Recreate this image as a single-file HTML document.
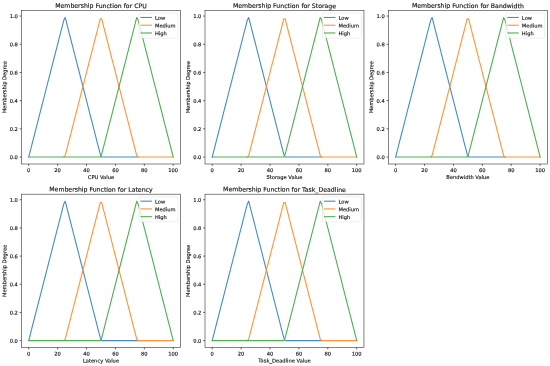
<!DOCTYPE html><html><head><meta charset="utf-8"><title>Membership Functions</title><style>html,body{margin:0;padding:0;background:#fff}svg{display:block}text{font-family:"DejaVu Sans","Liberation Sans",sans-serif;fill:#111;text-rendering:geometricPrecision}</style></head><body>
<svg width="550" height="366" viewBox="0 0 550 366">
<rect width="550" height="366" fill="#fff"/>
<g>
<path d="M28.73 164.00v1.80M57.62 164.00v1.80M86.53 164.00v1.80M115.43 164.00v1.80M144.33 164.00v1.80M173.22 164.00v1.80M21.50 157.02h-1.80M21.50 128.83h-1.80M21.50 100.63h-1.80M21.50 72.44h-1.80M21.50 44.25h-1.80M21.50 16.05h-1.80" stroke="#333" stroke-width="0.800" fill="none"/>
<text transform="translate(28.73 171.98) rotate(0.3) scale(0.1000)" font-size="51.54" text-anchor="middle" stroke="#111" stroke-width="1.50">0</text>
<text transform="translate(57.62 171.98) rotate(0.3) scale(0.1000)" font-size="51.54" text-anchor="middle" stroke="#111" stroke-width="1.50">20</text>
<text transform="translate(86.53 171.98) rotate(0.3) scale(0.1000)" font-size="51.54" text-anchor="middle" stroke="#111" stroke-width="1.50">40</text>
<text transform="translate(115.43 171.98) rotate(0.3) scale(0.1000)" font-size="51.54" text-anchor="middle" stroke="#111" stroke-width="1.50">60</text>
<text transform="translate(144.33 171.98) rotate(0.3) scale(0.1000)" font-size="51.54" text-anchor="middle" stroke="#111" stroke-width="1.50">80</text>
<text transform="translate(173.22 171.98) rotate(0.3) scale(0.1000)" font-size="51.54" text-anchor="middle" stroke="#111" stroke-width="1.50">100</text>
<text transform="translate(17.89 159.10) rotate(0.3) scale(0.1000)" font-size="51.54" text-anchor="end" stroke="#111" stroke-width="1.50">0.0</text>
<text transform="translate(17.89 130.91) rotate(0.3) scale(0.1000)" font-size="51.54" text-anchor="end" stroke="#111" stroke-width="1.50">0.2</text>
<text transform="translate(17.89 102.72) rotate(0.3) scale(0.1000)" font-size="51.54" text-anchor="end" stroke="#111" stroke-width="1.50">0.4</text>
<text transform="translate(17.89 74.52) rotate(0.3) scale(0.1000)" font-size="51.54" text-anchor="end" stroke="#111" stroke-width="1.50">0.6</text>
<text transform="translate(17.89 46.33) rotate(0.3) scale(0.1000)" font-size="51.54" text-anchor="end" stroke="#111" stroke-width="1.50">0.8</text>
<text transform="translate(17.89 18.13) rotate(0.3) scale(0.1000)" font-size="51.54" text-anchor="end" stroke="#111" stroke-width="1.50">1.0</text>
<polyline points="28.73,157.02 30.18,151.33 31.64,145.63 33.10,139.94 34.56,134.24 36.02,128.54 37.48,122.85 38.94,117.15 40.40,111.46 41.86,105.76 43.32,100.07 44.78,94.37 46.24,88.67 47.70,82.98 49.16,77.28 50.62,71.59 52.08,65.89 53.54,60.20 55.00,54.50 56.46,48.80 57.92,43.11 59.38,37.41 60.84,31.72 62.30,26.02 63.76,20.33 65.21,17.48 66.67,23.17 68.13,28.87 69.59,34.56 71.05,40.26 72.51,45.96 73.97,51.65 75.43,57.35 76.89,63.04 78.35,68.74 79.81,74.43 81.27,80.13 82.73,85.83 84.19,91.52 85.65,97.22 87.11,102.91 88.57,108.61 90.03,114.30 91.49,120.00 92.95,125.70 94.41,131.39 95.87,137.09 97.33,142.78 98.79,148.48 100.25,154.17 101.70,157.02 103.16,157.02 104.62,157.02 106.08,157.02 107.54,157.02 109.00,157.02 110.46,157.02 111.92,157.02 113.38,157.02 114.84,157.02 116.30,157.02 117.76,157.02 119.22,157.02 120.68,157.02 122.14,157.02 123.60,157.02 125.06,157.02 126.52,157.02 127.98,157.02 129.44,157.02 130.90,157.02 132.36,157.02 133.82,157.02 135.28,157.02 136.74,157.02 138.19,157.02" fill="none" stroke="#438dc0" stroke-opacity="1.00" stroke-width="1.100" stroke-linejoin="round" stroke-linecap="square"/>
<polyline points="63.76,157.02 65.21,155.60 66.67,149.90 68.13,144.21 69.59,138.51 71.05,132.82 72.51,127.12 73.97,121.42 75.43,115.73 76.89,110.03 78.35,104.34 79.81,98.64 81.27,92.95 82.73,87.25 84.19,81.55 85.65,75.86 87.11,70.16 88.57,64.47 90.03,58.77 91.49,53.08 92.95,47.38 94.41,41.68 95.87,35.99 97.33,30.29 98.79,24.60 100.25,18.90 101.70,18.90 103.16,24.60 104.62,30.29 106.08,35.99 107.54,41.68 109.00,47.38 110.46,53.08 111.92,58.77 113.38,64.47 114.84,70.16 116.30,75.86 117.76,81.55 119.22,87.25 120.68,92.95 122.14,98.64 123.60,104.34 125.06,110.03 126.52,115.73 127.98,121.42 129.44,127.12 130.90,132.82 132.36,138.51 133.82,144.21 135.28,149.90 136.74,155.60 138.19,157.02 139.65,157.02 141.11,157.02 142.57,157.02 144.03,157.02 145.49,157.02 146.95,157.02 148.41,157.02 149.87,157.02 151.33,157.02 152.79,157.02 154.25,157.02 155.71,157.02 157.17,157.02 158.63,157.02 160.09,157.02 161.55,157.02 163.01,157.02 164.47,157.02 165.93,157.02 167.39,157.02 168.85,157.02 170.31,157.02 171.77,157.02 173.22,157.02" fill="none" stroke="#ff9335" stroke-opacity="1.00" stroke-width="1.100" stroke-linejoin="round" stroke-linecap="square"/>
<polyline points="28.73,157.02 30.18,157.02 31.64,157.02 33.10,157.02 34.56,157.02 36.02,157.02 37.48,157.02 38.94,157.02 40.40,157.02 41.86,157.02 43.32,157.02 44.78,157.02 46.24,157.02 47.70,157.02 49.16,157.02 50.62,157.02 52.08,157.02 53.54,157.02 55.00,157.02 56.46,157.02 57.92,157.02 59.38,157.02 60.84,157.02 62.30,157.02 63.76,157.02 65.21,157.02 66.67,157.02 68.13,157.02 69.59,157.02 71.05,157.02 72.51,157.02 73.97,157.02 75.43,157.02 76.89,157.02 78.35,157.02 79.81,157.02 81.27,157.02 82.73,157.02 84.19,157.02 85.65,157.02 87.11,157.02 88.57,157.02 90.03,157.02 91.49,157.02 92.95,157.02 94.41,157.02 95.87,157.02 97.33,157.02 98.79,157.02 100.25,157.02 101.70,154.17 103.16,148.48 104.62,142.78 106.08,137.09 107.54,131.39 109.00,125.70 110.46,120.00 111.92,114.30 113.38,108.61 114.84,102.91 116.30,97.22 117.76,91.52 119.22,85.83 120.68,80.13 122.14,74.43 123.60,68.74 125.06,63.04 126.52,57.35 127.98,51.65 129.44,45.96 130.90,40.26 132.36,34.56 133.82,28.87 135.28,23.17 136.74,17.48 138.19,20.33 139.65,26.02 141.11,31.72 142.57,37.41 144.03,43.11 145.49,48.80 146.95,54.50 148.41,60.20 149.87,65.89 151.33,71.59 152.79,77.28 154.25,82.98 155.71,88.67 157.17,94.37 158.63,100.07 160.09,105.76 161.55,111.46 163.01,117.15 164.47,122.85 165.93,128.54 167.39,134.24 168.85,139.94 170.31,145.63 171.77,151.33 173.22,157.02" fill="none" stroke="#4eaf4e" stroke-opacity="1.00" stroke-width="1.100" stroke-linejoin="round" stroke-linecap="square"/>
<rect x="21.50" y="10.50" width="158.95" height="153.50" fill="none" stroke="#333" stroke-width="0.600"/>
<text transform="translate(100.97 7.91) rotate(0.3) scale(0.1000)" font-size="61.85" text-anchor="middle" stroke="#111" stroke-width="1.50">Membership Function for CPU</text>
<text transform="translate(100.97 178.95) rotate(0.3) scale(0.1000)" font-size="51.54" text-anchor="middle" stroke="#111" stroke-width="1.50">CPU Value</text>
<text transform="translate(6.30 87.25) rotate(-89.7) scale(0.1000)" font-size="51.54" text-anchor="middle" stroke="#111" stroke-width="1.50">Membership Degree</text>
<rect x="138.97" y="13.08" width="38.90" height="25.10" rx="1.03" fill="#fff" fill-opacity="0.8" stroke="#ccc" stroke-opacity="0.6" stroke-width="0.515"/>
<path d="M141.03 17.48H151.34" stroke="#438dc0" stroke-opacity="1.00" stroke-width="1.100" stroke-linecap="square"/>
<text transform="translate(154.97 19.68) rotate(0.3) scale(0.1000)" font-size="51.54" text-anchor="start" stroke="#111" stroke-width="1.50">Low</text>
<path d="M141.03 25.23H151.34" stroke="#ff9335" stroke-opacity="1.00" stroke-width="1.100" stroke-linecap="square"/>
<text transform="translate(154.97 27.43) rotate(0.3) scale(0.1000)" font-size="51.54" text-anchor="start" stroke="#111" stroke-width="1.50">Medium</text>
<path d="M141.03 32.98H151.34" stroke="#4eaf4e" stroke-opacity="1.00" stroke-width="1.100" stroke-linecap="square"/>
<text transform="translate(154.97 35.18) rotate(0.3) scale(0.1000)" font-size="51.54" text-anchor="start" stroke="#111" stroke-width="1.50">High</text>
</g>
<g>
<path d="M212.22 164.00v1.80M241.12 164.00v1.80M270.02 164.00v1.80M298.93 164.00v1.80M327.82 164.00v1.80M356.73 164.00v1.80M205.00 157.02h-1.80M205.00 128.83h-1.80M205.00 100.63h-1.80M205.00 72.44h-1.80M205.00 44.25h-1.80M205.00 16.05h-1.80" stroke="#333" stroke-width="0.800" fill="none"/>
<text transform="translate(212.22 171.98) rotate(0.3) scale(0.1000)" font-size="51.54" text-anchor="middle" stroke="#111" stroke-width="1.50">0</text>
<text transform="translate(241.12 171.98) rotate(0.3) scale(0.1000)" font-size="51.54" text-anchor="middle" stroke="#111" stroke-width="1.50">20</text>
<text transform="translate(270.02 171.98) rotate(0.3) scale(0.1000)" font-size="51.54" text-anchor="middle" stroke="#111" stroke-width="1.50">40</text>
<text transform="translate(298.93 171.98) rotate(0.3) scale(0.1000)" font-size="51.54" text-anchor="middle" stroke="#111" stroke-width="1.50">60</text>
<text transform="translate(327.82 171.98) rotate(0.3) scale(0.1000)" font-size="51.54" text-anchor="middle" stroke="#111" stroke-width="1.50">80</text>
<text transform="translate(356.73 171.98) rotate(0.3) scale(0.1000)" font-size="51.54" text-anchor="middle" stroke="#111" stroke-width="1.50">100</text>
<text transform="translate(201.39 159.10) rotate(0.3) scale(0.1000)" font-size="51.54" text-anchor="end" stroke="#111" stroke-width="1.50">0.0</text>
<text transform="translate(201.39 130.91) rotate(0.3) scale(0.1000)" font-size="51.54" text-anchor="end" stroke="#111" stroke-width="1.50">0.2</text>
<text transform="translate(201.39 102.72) rotate(0.3) scale(0.1000)" font-size="51.54" text-anchor="end" stroke="#111" stroke-width="1.50">0.4</text>
<text transform="translate(201.39 74.52) rotate(0.3) scale(0.1000)" font-size="51.54" text-anchor="end" stroke="#111" stroke-width="1.50">0.6</text>
<text transform="translate(201.39 46.33) rotate(0.3) scale(0.1000)" font-size="51.54" text-anchor="end" stroke="#111" stroke-width="1.50">0.8</text>
<text transform="translate(201.39 18.13) rotate(0.3) scale(0.1000)" font-size="51.54" text-anchor="end" stroke="#111" stroke-width="1.50">1.0</text>
<polyline points="212.22,157.02 213.68,151.33 215.14,145.63 216.60,139.94 218.06,134.24 219.52,128.54 220.98,122.85 222.44,117.15 223.90,111.46 225.36,105.76 226.82,100.07 228.28,94.37 229.74,88.67 231.20,82.98 232.66,77.28 234.12,71.59 235.58,65.89 237.04,60.20 238.50,54.50 239.96,48.80 241.42,43.11 242.88,37.41 244.34,31.72 245.80,26.02 247.26,20.33 248.71,17.48 250.17,23.17 251.63,28.87 253.09,34.56 254.55,40.26 256.01,45.96 257.47,51.65 258.93,57.35 260.39,63.04 261.85,68.74 263.31,74.43 264.77,80.13 266.23,85.83 267.69,91.52 269.15,97.22 270.61,102.91 272.07,108.61 273.53,114.30 274.99,120.00 276.45,125.70 277.91,131.39 279.37,137.09 280.83,142.78 282.29,148.48 283.75,154.17 285.20,157.02 286.66,157.02 288.12,157.02 289.58,157.02 291.04,157.02 292.50,157.02 293.96,157.02 295.42,157.02 296.88,157.02 298.34,157.02 299.80,157.02 301.26,157.02 302.72,157.02 304.18,157.02 305.64,157.02 307.10,157.02 308.56,157.02 310.02,157.02 311.48,157.02 312.94,157.02 314.40,157.02 315.86,157.02 317.32,157.02 318.78,157.02 320.24,157.02 321.69,157.02" fill="none" stroke="#438dc0" stroke-opacity="1.00" stroke-width="1.100" stroke-linejoin="round" stroke-linecap="square"/>
<polyline points="247.26,157.02 248.71,155.60 250.17,149.90 251.63,144.21 253.09,138.51 254.55,132.82 256.01,127.12 257.47,121.42 258.93,115.73 260.39,110.03 261.85,104.34 263.31,98.64 264.77,92.95 266.23,87.25 267.69,81.55 269.15,75.86 270.61,70.16 272.07,64.47 273.53,58.77 274.99,53.08 276.45,47.38 277.91,41.68 279.37,35.99 280.83,30.29 282.29,24.60 283.75,18.90 285.20,18.90 286.66,24.60 288.12,30.29 289.58,35.99 291.04,41.68 292.50,47.38 293.96,53.08 295.42,58.77 296.88,64.47 298.34,70.16 299.80,75.86 301.26,81.55 302.72,87.25 304.18,92.95 305.64,98.64 307.10,104.34 308.56,110.03 310.02,115.73 311.48,121.42 312.94,127.12 314.40,132.82 315.86,138.51 317.32,144.21 318.78,149.90 320.24,155.60 321.69,157.02 323.15,157.02 324.61,157.02 326.07,157.02 327.53,157.02 328.99,157.02 330.45,157.02 331.91,157.02 333.37,157.02 334.83,157.02 336.29,157.02 337.75,157.02 339.21,157.02 340.67,157.02 342.13,157.02 343.59,157.02 345.05,157.02 346.51,157.02 347.97,157.02 349.43,157.02 350.89,157.02 352.35,157.02 353.81,157.02 355.27,157.02 356.73,157.02" fill="none" stroke="#ff9335" stroke-opacity="1.00" stroke-width="1.100" stroke-linejoin="round" stroke-linecap="square"/>
<polyline points="212.22,157.02 213.68,157.02 215.14,157.02 216.60,157.02 218.06,157.02 219.52,157.02 220.98,157.02 222.44,157.02 223.90,157.02 225.36,157.02 226.82,157.02 228.28,157.02 229.74,157.02 231.20,157.02 232.66,157.02 234.12,157.02 235.58,157.02 237.04,157.02 238.50,157.02 239.96,157.02 241.42,157.02 242.88,157.02 244.34,157.02 245.80,157.02 247.26,157.02 248.71,157.02 250.17,157.02 251.63,157.02 253.09,157.02 254.55,157.02 256.01,157.02 257.47,157.02 258.93,157.02 260.39,157.02 261.85,157.02 263.31,157.02 264.77,157.02 266.23,157.02 267.69,157.02 269.15,157.02 270.61,157.02 272.07,157.02 273.53,157.02 274.99,157.02 276.45,157.02 277.91,157.02 279.37,157.02 280.83,157.02 282.29,157.02 283.75,157.02 285.20,154.17 286.66,148.48 288.12,142.78 289.58,137.09 291.04,131.39 292.50,125.70 293.96,120.00 295.42,114.30 296.88,108.61 298.34,102.91 299.80,97.22 301.26,91.52 302.72,85.83 304.18,80.13 305.64,74.43 307.10,68.74 308.56,63.04 310.02,57.35 311.48,51.65 312.94,45.96 314.40,40.26 315.86,34.56 317.32,28.87 318.78,23.17 320.24,17.48 321.69,20.33 323.15,26.02 324.61,31.72 326.07,37.41 327.53,43.11 328.99,48.80 330.45,54.50 331.91,60.20 333.37,65.89 334.83,71.59 336.29,77.28 337.75,82.98 339.21,88.67 340.67,94.37 342.13,100.07 343.59,105.76 345.05,111.46 346.51,117.15 347.97,122.85 349.43,128.54 350.89,134.24 352.35,139.94 353.81,145.63 355.27,151.33 356.73,157.02" fill="none" stroke="#4eaf4e" stroke-opacity="1.00" stroke-width="1.100" stroke-linejoin="round" stroke-linecap="square"/>
<rect x="205.00" y="10.50" width="158.95" height="153.50" fill="none" stroke="#333" stroke-width="0.600"/>
<text transform="translate(284.48 7.91) rotate(0.3) scale(0.1000)" font-size="61.85" text-anchor="middle" stroke="#111" stroke-width="1.50">Membership Function for Storage</text>
<text transform="translate(284.48 178.95) rotate(0.3) scale(0.1000)" font-size="51.54" text-anchor="middle" stroke="#111" stroke-width="1.50">Storage Value</text>
<text transform="translate(189.80 87.25) rotate(-89.7) scale(0.1000)" font-size="51.54" text-anchor="middle" stroke="#111" stroke-width="1.50">Membership Degree</text>
<rect x="322.47" y="13.08" width="38.90" height="25.10" rx="1.03" fill="#fff" fill-opacity="0.8" stroke="#ccc" stroke-opacity="0.6" stroke-width="0.515"/>
<path d="M324.53 17.48H334.84" stroke="#438dc0" stroke-opacity="1.00" stroke-width="1.100" stroke-linecap="square"/>
<text transform="translate(338.47 19.68) rotate(0.3) scale(0.1000)" font-size="51.54" text-anchor="start" stroke="#111" stroke-width="1.50">Low</text>
<path d="M324.53 25.23H334.84" stroke="#ff9335" stroke-opacity="1.00" stroke-width="1.100" stroke-linecap="square"/>
<text transform="translate(338.47 27.43) rotate(0.3) scale(0.1000)" font-size="51.54" text-anchor="start" stroke="#111" stroke-width="1.50">Medium</text>
<path d="M324.53 32.98H334.84" stroke="#4eaf4e" stroke-opacity="1.00" stroke-width="1.100" stroke-linecap="square"/>
<text transform="translate(338.47 35.18) rotate(0.3) scale(0.1000)" font-size="51.54" text-anchor="start" stroke="#111" stroke-width="1.50">High</text>
</g>
<g>
<path d="M395.62 164.00v1.80M424.52 164.00v1.80M453.43 164.00v1.80M482.32 164.00v1.80M511.23 164.00v1.80M540.12 164.00v1.80M388.40 157.02h-1.80M388.40 128.83h-1.80M388.40 100.63h-1.80M388.40 72.44h-1.80M388.40 44.25h-1.80M388.40 16.05h-1.80" stroke="#333" stroke-width="0.800" fill="none"/>
<text transform="translate(395.62 171.98) rotate(0.3) scale(0.1000)" font-size="51.54" text-anchor="middle" stroke="#111" stroke-width="1.50">0</text>
<text transform="translate(424.52 171.98) rotate(0.3) scale(0.1000)" font-size="51.54" text-anchor="middle" stroke="#111" stroke-width="1.50">20</text>
<text transform="translate(453.43 171.98) rotate(0.3) scale(0.1000)" font-size="51.54" text-anchor="middle" stroke="#111" stroke-width="1.50">40</text>
<text transform="translate(482.32 171.98) rotate(0.3) scale(0.1000)" font-size="51.54" text-anchor="middle" stroke="#111" stroke-width="1.50">60</text>
<text transform="translate(511.23 171.98) rotate(0.3) scale(0.1000)" font-size="51.54" text-anchor="middle" stroke="#111" stroke-width="1.50">80</text>
<text transform="translate(540.12 171.98) rotate(0.3) scale(0.1000)" font-size="51.54" text-anchor="middle" stroke="#111" stroke-width="1.50">100</text>
<text transform="translate(384.79 159.10) rotate(0.3) scale(0.1000)" font-size="51.54" text-anchor="end" stroke="#111" stroke-width="1.50">0.0</text>
<text transform="translate(384.79 130.91) rotate(0.3) scale(0.1000)" font-size="51.54" text-anchor="end" stroke="#111" stroke-width="1.50">0.2</text>
<text transform="translate(384.79 102.72) rotate(0.3) scale(0.1000)" font-size="51.54" text-anchor="end" stroke="#111" stroke-width="1.50">0.4</text>
<text transform="translate(384.79 74.52) rotate(0.3) scale(0.1000)" font-size="51.54" text-anchor="end" stroke="#111" stroke-width="1.50">0.6</text>
<text transform="translate(384.79 46.33) rotate(0.3) scale(0.1000)" font-size="51.54" text-anchor="end" stroke="#111" stroke-width="1.50">0.8</text>
<text transform="translate(384.79 18.13) rotate(0.3) scale(0.1000)" font-size="51.54" text-anchor="end" stroke="#111" stroke-width="1.50">1.0</text>
<polyline points="395.62,157.02 397.08,151.33 398.54,145.63 400.00,139.94 401.46,134.24 402.92,128.54 404.38,122.85 405.84,117.15 407.30,111.46 408.76,105.76 410.22,100.07 411.68,94.37 413.14,88.67 414.60,82.98 416.06,77.28 417.52,71.59 418.98,65.89 420.44,60.20 421.90,54.50 423.36,48.80 424.82,43.11 426.28,37.41 427.74,31.72 429.20,26.02 430.66,20.33 432.11,17.48 433.57,23.17 435.03,28.87 436.49,34.56 437.95,40.26 439.41,45.96 440.87,51.65 442.33,57.35 443.79,63.04 445.25,68.74 446.71,74.43 448.17,80.13 449.63,85.83 451.09,91.52 452.55,97.22 454.01,102.91 455.47,108.61 456.93,114.30 458.39,120.00 459.85,125.70 461.31,131.39 462.77,137.09 464.23,142.78 465.69,148.48 467.15,154.17 468.60,157.02 470.06,157.02 471.52,157.02 472.98,157.02 474.44,157.02 475.90,157.02 477.36,157.02 478.82,157.02 480.28,157.02 481.74,157.02 483.20,157.02 484.66,157.02 486.12,157.02 487.58,157.02 489.04,157.02 490.50,157.02 491.96,157.02 493.42,157.02 494.88,157.02 496.34,157.02 497.80,157.02 499.26,157.02 500.72,157.02 502.18,157.02 503.64,157.02 505.09,157.02" fill="none" stroke="#438dc0" stroke-opacity="1.00" stroke-width="1.100" stroke-linejoin="round" stroke-linecap="square"/>
<polyline points="430.66,157.02 432.11,155.60 433.57,149.90 435.03,144.21 436.49,138.51 437.95,132.82 439.41,127.12 440.87,121.42 442.33,115.73 443.79,110.03 445.25,104.34 446.71,98.64 448.17,92.95 449.63,87.25 451.09,81.55 452.55,75.86 454.01,70.16 455.47,64.47 456.93,58.77 458.39,53.08 459.85,47.38 461.31,41.68 462.77,35.99 464.23,30.29 465.69,24.60 467.15,18.90 468.60,18.90 470.06,24.60 471.52,30.29 472.98,35.99 474.44,41.68 475.90,47.38 477.36,53.08 478.82,58.77 480.28,64.47 481.74,70.16 483.20,75.86 484.66,81.55 486.12,87.25 487.58,92.95 489.04,98.64 490.50,104.34 491.96,110.03 493.42,115.73 494.88,121.42 496.34,127.12 497.80,132.82 499.26,138.51 500.72,144.21 502.18,149.90 503.64,155.60 505.09,157.02 506.55,157.02 508.01,157.02 509.47,157.02 510.93,157.02 512.39,157.02 513.85,157.02 515.31,157.02 516.77,157.02 518.23,157.02 519.69,157.02 521.15,157.02 522.61,157.02 524.07,157.02 525.53,157.02 526.99,157.02 528.45,157.02 529.91,157.02 531.37,157.02 532.83,157.02 534.29,157.02 535.75,157.02 537.21,157.02 538.67,157.02 540.12,157.02" fill="none" stroke="#ff9335" stroke-opacity="1.00" stroke-width="1.100" stroke-linejoin="round" stroke-linecap="square"/>
<polyline points="395.62,157.02 397.08,157.02 398.54,157.02 400.00,157.02 401.46,157.02 402.92,157.02 404.38,157.02 405.84,157.02 407.30,157.02 408.76,157.02 410.22,157.02 411.68,157.02 413.14,157.02 414.60,157.02 416.06,157.02 417.52,157.02 418.98,157.02 420.44,157.02 421.90,157.02 423.36,157.02 424.82,157.02 426.28,157.02 427.74,157.02 429.20,157.02 430.66,157.02 432.11,157.02 433.57,157.02 435.03,157.02 436.49,157.02 437.95,157.02 439.41,157.02 440.87,157.02 442.33,157.02 443.79,157.02 445.25,157.02 446.71,157.02 448.17,157.02 449.63,157.02 451.09,157.02 452.55,157.02 454.01,157.02 455.47,157.02 456.93,157.02 458.39,157.02 459.85,157.02 461.31,157.02 462.77,157.02 464.23,157.02 465.69,157.02 467.15,157.02 468.60,154.17 470.06,148.48 471.52,142.78 472.98,137.09 474.44,131.39 475.90,125.70 477.36,120.00 478.82,114.30 480.28,108.61 481.74,102.91 483.20,97.22 484.66,91.52 486.12,85.83 487.58,80.13 489.04,74.43 490.50,68.74 491.96,63.04 493.42,57.35 494.88,51.65 496.34,45.96 497.80,40.26 499.26,34.56 500.72,28.87 502.18,23.17 503.64,17.48 505.09,20.33 506.55,26.02 508.01,31.72 509.47,37.41 510.93,43.11 512.39,48.80 513.85,54.50 515.31,60.20 516.77,65.89 518.23,71.59 519.69,77.28 521.15,82.98 522.61,88.67 524.07,94.37 525.53,100.07 526.99,105.76 528.45,111.46 529.91,117.15 531.37,122.85 532.83,128.54 534.29,134.24 535.75,139.94 537.21,145.63 538.67,151.33 540.12,157.02" fill="none" stroke="#4eaf4e" stroke-opacity="1.00" stroke-width="1.100" stroke-linejoin="round" stroke-linecap="square"/>
<rect x="388.40" y="10.50" width="158.95" height="153.50" fill="none" stroke="#333" stroke-width="0.600"/>
<text transform="translate(467.87 7.91) rotate(0.3) scale(0.1000)" font-size="61.85" text-anchor="middle" stroke="#111" stroke-width="1.50">Membership Function for Bandwidth</text>
<text transform="translate(467.87 178.95) rotate(0.3) scale(0.1000)" font-size="51.54" text-anchor="middle" stroke="#111" stroke-width="1.50">Bandwidth Value</text>
<text transform="translate(373.20 87.25) rotate(-89.7) scale(0.1000)" font-size="51.54" text-anchor="middle" stroke="#111" stroke-width="1.50">Membership Degree</text>
<rect x="505.87" y="13.08" width="38.90" height="25.10" rx="1.03" fill="#fff" fill-opacity="0.8" stroke="#ccc" stroke-opacity="0.6" stroke-width="0.515"/>
<path d="M507.93 17.48H518.24" stroke="#438dc0" stroke-opacity="1.00" stroke-width="1.100" stroke-linecap="square"/>
<text transform="translate(521.87 19.68) rotate(0.3) scale(0.1000)" font-size="51.54" text-anchor="start" stroke="#111" stroke-width="1.50">Low</text>
<path d="M507.93 25.23H518.24" stroke="#ff9335" stroke-opacity="1.00" stroke-width="1.100" stroke-linecap="square"/>
<text transform="translate(521.87 27.43) rotate(0.3) scale(0.1000)" font-size="51.54" text-anchor="start" stroke="#111" stroke-width="1.50">Medium</text>
<path d="M507.93 32.98H518.24" stroke="#4eaf4e" stroke-opacity="1.00" stroke-width="1.100" stroke-linecap="square"/>
<text transform="translate(521.87 35.18) rotate(0.3) scale(0.1000)" font-size="51.54" text-anchor="start" stroke="#111" stroke-width="1.50">High</text>
</g>
<g>
<path d="M28.73 347.55v1.80M57.62 347.55v1.80M86.53 347.55v1.80M115.43 347.55v1.80M144.33 347.55v1.80M173.22 347.55v1.80M21.50 340.58h-1.80M21.50 312.41h-1.80M21.50 284.25h-1.80M21.50 256.08h-1.80M21.50 227.91h-1.80M21.50 199.75h-1.80" stroke="#333" stroke-width="0.800" fill="none"/>
<text transform="translate(28.73 355.53) rotate(0.3) scale(0.1000)" font-size="51.54" text-anchor="middle" stroke="#111" stroke-width="1.50">0</text>
<text transform="translate(57.62 355.53) rotate(0.3) scale(0.1000)" font-size="51.54" text-anchor="middle" stroke="#111" stroke-width="1.50">20</text>
<text transform="translate(86.53 355.53) rotate(0.3) scale(0.1000)" font-size="51.54" text-anchor="middle" stroke="#111" stroke-width="1.50">40</text>
<text transform="translate(115.43 355.53) rotate(0.3) scale(0.1000)" font-size="51.54" text-anchor="middle" stroke="#111" stroke-width="1.50">60</text>
<text transform="translate(144.33 355.53) rotate(0.3) scale(0.1000)" font-size="51.54" text-anchor="middle" stroke="#111" stroke-width="1.50">80</text>
<text transform="translate(173.22 355.53) rotate(0.3) scale(0.1000)" font-size="51.54" text-anchor="middle" stroke="#111" stroke-width="1.50">100</text>
<text transform="translate(17.89 342.66) rotate(0.3) scale(0.1000)" font-size="51.54" text-anchor="end" stroke="#111" stroke-width="1.50">0.0</text>
<text transform="translate(17.89 314.49) rotate(0.3) scale(0.1000)" font-size="51.54" text-anchor="end" stroke="#111" stroke-width="1.50">0.2</text>
<text transform="translate(17.89 286.33) rotate(0.3) scale(0.1000)" font-size="51.54" text-anchor="end" stroke="#111" stroke-width="1.50">0.4</text>
<text transform="translate(17.89 258.16) rotate(0.3) scale(0.1000)" font-size="51.54" text-anchor="end" stroke="#111" stroke-width="1.50">0.6</text>
<text transform="translate(17.89 230.00) rotate(0.3) scale(0.1000)" font-size="51.54" text-anchor="end" stroke="#111" stroke-width="1.50">0.8</text>
<text transform="translate(17.89 201.83) rotate(0.3) scale(0.1000)" font-size="51.54" text-anchor="end" stroke="#111" stroke-width="1.50">1.0</text>
<polyline points="28.73,340.58 30.18,334.89 31.64,329.20 33.10,323.51 34.56,317.82 36.02,312.13 37.48,306.44 38.94,300.75 40.40,295.06 41.86,289.37 43.32,283.68 44.78,277.99 46.24,272.30 47.70,266.61 49.16,260.92 50.62,255.23 52.08,249.54 53.54,243.85 55.00,238.16 56.46,232.47 57.92,226.78 59.38,221.09 60.84,215.40 62.30,209.71 63.76,204.02 65.21,201.17 66.67,206.86 68.13,212.55 69.59,218.24 71.05,223.93 72.51,229.62 73.97,235.31 75.43,241.00 76.89,246.69 78.35,252.38 79.81,258.07 81.27,263.76 82.73,269.45 84.19,275.14 85.65,280.83 87.11,286.52 88.57,292.21 90.03,297.90 91.49,303.59 92.95,309.28 94.41,314.97 95.87,320.66 97.33,326.35 98.79,332.04 100.25,337.73 101.70,340.58 103.16,340.58 104.62,340.58 106.08,340.58 107.54,340.58 109.00,340.58 110.46,340.58 111.92,340.58 113.38,340.58 114.84,340.58 116.30,340.58 117.76,340.58 119.22,340.58 120.68,340.58 122.14,340.58 123.60,340.58 125.06,340.58 126.52,340.58 127.98,340.58 129.44,340.58 130.90,340.58 132.36,340.58 133.82,340.58 135.28,340.58 136.74,340.58 138.19,340.58" fill="none" stroke="#438dc0" stroke-opacity="1.00" stroke-width="1.100" stroke-linejoin="round" stroke-linecap="square"/>
<polyline points="63.76,340.58 65.21,339.16 66.67,333.47 68.13,327.78 69.59,322.09 71.05,316.40 72.51,310.71 73.97,305.02 75.43,299.33 76.89,293.64 78.35,287.95 79.81,282.26 81.27,276.57 82.73,270.88 84.19,265.18 85.65,259.49 87.11,253.80 88.57,248.11 90.03,242.42 91.49,236.73 92.95,231.04 94.41,225.35 95.87,219.66 97.33,213.97 98.79,208.28 100.25,202.59 101.70,202.59 103.16,208.28 104.62,213.97 106.08,219.66 107.54,225.35 109.00,231.04 110.46,236.73 111.92,242.42 113.38,248.11 114.84,253.80 116.30,259.49 117.76,265.18 119.22,270.88 120.68,276.57 122.14,282.26 123.60,287.95 125.06,293.64 126.52,299.33 127.98,305.02 129.44,310.71 130.90,316.40 132.36,322.09 133.82,327.78 135.28,333.47 136.74,339.16 138.19,340.58 139.65,340.58 141.11,340.58 142.57,340.58 144.03,340.58 145.49,340.58 146.95,340.58 148.41,340.58 149.87,340.58 151.33,340.58 152.79,340.58 154.25,340.58 155.71,340.58 157.17,340.58 158.63,340.58 160.09,340.58 161.55,340.58 163.01,340.58 164.47,340.58 165.93,340.58 167.39,340.58 168.85,340.58 170.31,340.58 171.77,340.58 173.22,340.58" fill="none" stroke="#ff9335" stroke-opacity="1.00" stroke-width="1.100" stroke-linejoin="round" stroke-linecap="square"/>
<polyline points="28.73,340.58 30.18,340.58 31.64,340.58 33.10,340.58 34.56,340.58 36.02,340.58 37.48,340.58 38.94,340.58 40.40,340.58 41.86,340.58 43.32,340.58 44.78,340.58 46.24,340.58 47.70,340.58 49.16,340.58 50.62,340.58 52.08,340.58 53.54,340.58 55.00,340.58 56.46,340.58 57.92,340.58 59.38,340.58 60.84,340.58 62.30,340.58 63.76,340.58 65.21,340.58 66.67,340.58 68.13,340.58 69.59,340.58 71.05,340.58 72.51,340.58 73.97,340.58 75.43,340.58 76.89,340.58 78.35,340.58 79.81,340.58 81.27,340.58 82.73,340.58 84.19,340.58 85.65,340.58 87.11,340.58 88.57,340.58 90.03,340.58 91.49,340.58 92.95,340.58 94.41,340.58 95.87,340.58 97.33,340.58 98.79,340.58 100.25,340.58 101.70,337.73 103.16,332.04 104.62,326.35 106.08,320.66 107.54,314.97 109.00,309.28 110.46,303.59 111.92,297.90 113.38,292.21 114.84,286.52 116.30,280.83 117.76,275.14 119.22,269.45 120.68,263.76 122.14,258.07 123.60,252.38 125.06,246.69 126.52,241.00 127.98,235.31 129.44,229.62 130.90,223.93 132.36,218.24 133.82,212.55 135.28,206.86 136.74,201.17 138.19,204.02 139.65,209.71 141.11,215.40 142.57,221.09 144.03,226.78 145.49,232.47 146.95,238.16 148.41,243.85 149.87,249.54 151.33,255.23 152.79,260.92 154.25,266.61 155.71,272.30 157.17,277.99 158.63,283.68 160.09,289.37 161.55,295.06 163.01,300.75 164.47,306.44 165.93,312.13 167.39,317.82 168.85,323.51 170.31,329.20 171.77,334.89 173.22,340.58" fill="none" stroke="#4eaf4e" stroke-opacity="1.00" stroke-width="1.100" stroke-linejoin="round" stroke-linecap="square"/>
<rect x="21.50" y="194.20" width="158.95" height="153.35" fill="none" stroke="#333" stroke-width="0.600"/>
<text transform="translate(100.97 191.61) rotate(0.3) scale(0.1000)" font-size="61.85" text-anchor="middle" stroke="#111" stroke-width="1.50">Membership Function for Latency</text>
<text transform="translate(100.97 362.50) rotate(0.3) scale(0.1000)" font-size="51.54" text-anchor="middle" stroke="#111" stroke-width="1.50">Latency Value</text>
<text transform="translate(6.30 270.88) rotate(-89.7) scale(0.1000)" font-size="51.54" text-anchor="middle" stroke="#111" stroke-width="1.50">Membership Degree</text>
<rect x="138.97" y="196.78" width="38.90" height="25.10" rx="1.03" fill="#fff" fill-opacity="0.8" stroke="#ccc" stroke-opacity="0.6" stroke-width="0.515"/>
<path d="M141.03 201.18H151.34" stroke="#438dc0" stroke-opacity="1.00" stroke-width="1.100" stroke-linecap="square"/>
<text transform="translate(154.97 203.38) rotate(0.3) scale(0.1000)" font-size="51.54" text-anchor="start" stroke="#111" stroke-width="1.50">Low</text>
<path d="M141.03 208.93H151.34" stroke="#ff9335" stroke-opacity="1.00" stroke-width="1.100" stroke-linecap="square"/>
<text transform="translate(154.97 211.13) rotate(0.3) scale(0.1000)" font-size="51.54" text-anchor="start" stroke="#111" stroke-width="1.50">Medium</text>
<path d="M141.03 216.68H151.34" stroke="#4eaf4e" stroke-opacity="1.00" stroke-width="1.100" stroke-linecap="square"/>
<text transform="translate(154.97 218.88) rotate(0.3) scale(0.1000)" font-size="51.54" text-anchor="start" stroke="#111" stroke-width="1.50">High</text>
</g>
<g>
<path d="M212.22 347.55v1.80M241.12 347.55v1.80M270.02 347.55v1.80M298.93 347.55v1.80M327.82 347.55v1.80M356.73 347.55v1.80M205.00 340.58h-1.80M205.00 312.41h-1.80M205.00 284.25h-1.80M205.00 256.08h-1.80M205.00 227.91h-1.80M205.00 199.75h-1.80" stroke="#333" stroke-width="0.800" fill="none"/>
<text transform="translate(212.22 355.53) rotate(0.3) scale(0.1000)" font-size="51.54" text-anchor="middle" stroke="#111" stroke-width="1.50">0</text>
<text transform="translate(241.12 355.53) rotate(0.3) scale(0.1000)" font-size="51.54" text-anchor="middle" stroke="#111" stroke-width="1.50">20</text>
<text transform="translate(270.02 355.53) rotate(0.3) scale(0.1000)" font-size="51.54" text-anchor="middle" stroke="#111" stroke-width="1.50">40</text>
<text transform="translate(298.93 355.53) rotate(0.3) scale(0.1000)" font-size="51.54" text-anchor="middle" stroke="#111" stroke-width="1.50">60</text>
<text transform="translate(327.82 355.53) rotate(0.3) scale(0.1000)" font-size="51.54" text-anchor="middle" stroke="#111" stroke-width="1.50">80</text>
<text transform="translate(356.73 355.53) rotate(0.3) scale(0.1000)" font-size="51.54" text-anchor="middle" stroke="#111" stroke-width="1.50">100</text>
<text transform="translate(201.39 342.66) rotate(0.3) scale(0.1000)" font-size="51.54" text-anchor="end" stroke="#111" stroke-width="1.50">0.0</text>
<text transform="translate(201.39 314.49) rotate(0.3) scale(0.1000)" font-size="51.54" text-anchor="end" stroke="#111" stroke-width="1.50">0.2</text>
<text transform="translate(201.39 286.33) rotate(0.3) scale(0.1000)" font-size="51.54" text-anchor="end" stroke="#111" stroke-width="1.50">0.4</text>
<text transform="translate(201.39 258.16) rotate(0.3) scale(0.1000)" font-size="51.54" text-anchor="end" stroke="#111" stroke-width="1.50">0.6</text>
<text transform="translate(201.39 230.00) rotate(0.3) scale(0.1000)" font-size="51.54" text-anchor="end" stroke="#111" stroke-width="1.50">0.8</text>
<text transform="translate(201.39 201.83) rotate(0.3) scale(0.1000)" font-size="51.54" text-anchor="end" stroke="#111" stroke-width="1.50">1.0</text>
<polyline points="212.22,340.58 213.68,334.89 215.14,329.20 216.60,323.51 218.06,317.82 219.52,312.13 220.98,306.44 222.44,300.75 223.90,295.06 225.36,289.37 226.82,283.68 228.28,277.99 229.74,272.30 231.20,266.61 232.66,260.92 234.12,255.23 235.58,249.54 237.04,243.85 238.50,238.16 239.96,232.47 241.42,226.78 242.88,221.09 244.34,215.40 245.80,209.71 247.26,204.02 248.71,201.17 250.17,206.86 251.63,212.55 253.09,218.24 254.55,223.93 256.01,229.62 257.47,235.31 258.93,241.00 260.39,246.69 261.85,252.38 263.31,258.07 264.77,263.76 266.23,269.45 267.69,275.14 269.15,280.83 270.61,286.52 272.07,292.21 273.53,297.90 274.99,303.59 276.45,309.28 277.91,314.97 279.37,320.66 280.83,326.35 282.29,332.04 283.75,337.73 285.20,340.58 286.66,340.58 288.12,340.58 289.58,340.58 291.04,340.58 292.50,340.58 293.96,340.58 295.42,340.58 296.88,340.58 298.34,340.58 299.80,340.58 301.26,340.58 302.72,340.58 304.18,340.58 305.64,340.58 307.10,340.58 308.56,340.58 310.02,340.58 311.48,340.58 312.94,340.58 314.40,340.58 315.86,340.58 317.32,340.58 318.78,340.58 320.24,340.58 321.69,340.58" fill="none" stroke="#438dc0" stroke-opacity="1.00" stroke-width="1.100" stroke-linejoin="round" stroke-linecap="square"/>
<polyline points="247.26,340.58 248.71,339.16 250.17,333.47 251.63,327.78 253.09,322.09 254.55,316.40 256.01,310.71 257.47,305.02 258.93,299.33 260.39,293.64 261.85,287.95 263.31,282.26 264.77,276.57 266.23,270.88 267.69,265.18 269.15,259.49 270.61,253.80 272.07,248.11 273.53,242.42 274.99,236.73 276.45,231.04 277.91,225.35 279.37,219.66 280.83,213.97 282.29,208.28 283.75,202.59 285.20,202.59 286.66,208.28 288.12,213.97 289.58,219.66 291.04,225.35 292.50,231.04 293.96,236.73 295.42,242.42 296.88,248.11 298.34,253.80 299.80,259.49 301.26,265.18 302.72,270.88 304.18,276.57 305.64,282.26 307.10,287.95 308.56,293.64 310.02,299.33 311.48,305.02 312.94,310.71 314.40,316.40 315.86,322.09 317.32,327.78 318.78,333.47 320.24,339.16 321.69,340.58 323.15,340.58 324.61,340.58 326.07,340.58 327.53,340.58 328.99,340.58 330.45,340.58 331.91,340.58 333.37,340.58 334.83,340.58 336.29,340.58 337.75,340.58 339.21,340.58 340.67,340.58 342.13,340.58 343.59,340.58 345.05,340.58 346.51,340.58 347.97,340.58 349.43,340.58 350.89,340.58 352.35,340.58 353.81,340.58 355.27,340.58 356.73,340.58" fill="none" stroke="#ff9335" stroke-opacity="1.00" stroke-width="1.100" stroke-linejoin="round" stroke-linecap="square"/>
<polyline points="212.22,340.58 213.68,340.58 215.14,340.58 216.60,340.58 218.06,340.58 219.52,340.58 220.98,340.58 222.44,340.58 223.90,340.58 225.36,340.58 226.82,340.58 228.28,340.58 229.74,340.58 231.20,340.58 232.66,340.58 234.12,340.58 235.58,340.58 237.04,340.58 238.50,340.58 239.96,340.58 241.42,340.58 242.88,340.58 244.34,340.58 245.80,340.58 247.26,340.58 248.71,340.58 250.17,340.58 251.63,340.58 253.09,340.58 254.55,340.58 256.01,340.58 257.47,340.58 258.93,340.58 260.39,340.58 261.85,340.58 263.31,340.58 264.77,340.58 266.23,340.58 267.69,340.58 269.15,340.58 270.61,340.58 272.07,340.58 273.53,340.58 274.99,340.58 276.45,340.58 277.91,340.58 279.37,340.58 280.83,340.58 282.29,340.58 283.75,340.58 285.20,337.73 286.66,332.04 288.12,326.35 289.58,320.66 291.04,314.97 292.50,309.28 293.96,303.59 295.42,297.90 296.88,292.21 298.34,286.52 299.80,280.83 301.26,275.14 302.72,269.45 304.18,263.76 305.64,258.07 307.10,252.38 308.56,246.69 310.02,241.00 311.48,235.31 312.94,229.62 314.40,223.93 315.86,218.24 317.32,212.55 318.78,206.86 320.24,201.17 321.69,204.02 323.15,209.71 324.61,215.40 326.07,221.09 327.53,226.78 328.99,232.47 330.45,238.16 331.91,243.85 333.37,249.54 334.83,255.23 336.29,260.92 337.75,266.61 339.21,272.30 340.67,277.99 342.13,283.68 343.59,289.37 345.05,295.06 346.51,300.75 347.97,306.44 349.43,312.13 350.89,317.82 352.35,323.51 353.81,329.20 355.27,334.89 356.73,340.58" fill="none" stroke="#4eaf4e" stroke-opacity="1.00" stroke-width="1.100" stroke-linejoin="round" stroke-linecap="square"/>
<rect x="205.00" y="194.20" width="158.95" height="153.35" fill="none" stroke="#333" stroke-width="0.600"/>
<text transform="translate(284.48 191.61) rotate(0.3) scale(0.1000)" font-size="61.85" text-anchor="middle" stroke="#111" stroke-width="1.50">Membership Function for Task_Deadline</text>
<text transform="translate(284.48 362.50) rotate(0.3) scale(0.1000)" font-size="51.54" text-anchor="middle" stroke="#111" stroke-width="1.50">Task_Deadline Value</text>
<text transform="translate(189.80 270.88) rotate(-89.7) scale(0.1000)" font-size="51.54" text-anchor="middle" stroke="#111" stroke-width="1.50">Membership Degree</text>
<rect x="322.47" y="196.78" width="38.90" height="25.10" rx="1.03" fill="#fff" fill-opacity="0.8" stroke="#ccc" stroke-opacity="0.6" stroke-width="0.515"/>
<path d="M324.53 201.18H334.84" stroke="#438dc0" stroke-opacity="1.00" stroke-width="1.100" stroke-linecap="square"/>
<text transform="translate(338.47 203.38) rotate(0.3) scale(0.1000)" font-size="51.54" text-anchor="start" stroke="#111" stroke-width="1.50">Low</text>
<path d="M324.53 208.93H334.84" stroke="#ff9335" stroke-opacity="1.00" stroke-width="1.100" stroke-linecap="square"/>
<text transform="translate(338.47 211.13) rotate(0.3) scale(0.1000)" font-size="51.54" text-anchor="start" stroke="#111" stroke-width="1.50">Medium</text>
<path d="M324.53 216.68H334.84" stroke="#4eaf4e" stroke-opacity="1.00" stroke-width="1.100" stroke-linecap="square"/>
<text transform="translate(338.47 218.88) rotate(0.3) scale(0.1000)" font-size="51.54" text-anchor="start" stroke="#111" stroke-width="1.50">High</text>
</g>
</svg></body></html>
